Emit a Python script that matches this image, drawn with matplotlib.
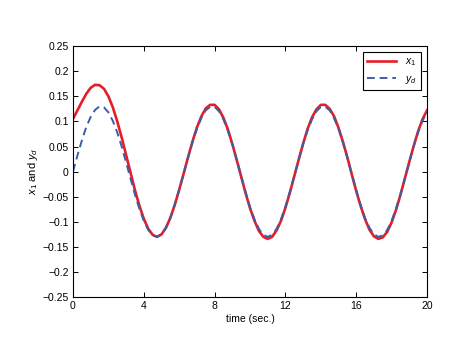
import numpy as np
import matplotlib
matplotlib.use("Agg")
import matplotlib.pyplot as plt

plt.rcParams['font.family'] = ['Liberation Sans', 'DejaVu Sans']
plt.rcParams['mathtext.fontset'] = 'custom'
plt.rcParams['mathtext.rm'] = 'Liberation Sans'
plt.rcParams['mathtext.it'] = 'Liberation Sans:italic'

# time samples (sec.), every 0.25 s
time = np.arange(0, 20.01, 0.25)

# state x1
x1 = [0.105, 0.122, 0.139, 0.155, 0.167, 0.173, 0.172, 0.165, 0.150, 0.128,
      0.100, 0.068, 0.033, -0.002, -0.037, -0.068, -0.094, -0.114, -0.126, -0.130,
      -0.125, -0.112, -0.092, -0.066, -0.036, -0.004, 0.029, 0.060, 0.088, 0.110,
      0.126, 0.133, 0.133, 0.124, 0.107, 0.084, 0.055, 0.023, -0.010, -0.043,
      -0.073, -0.098, -0.118, -0.130, -0.134, -0.130, -0.117, -0.098, -0.072, -0.042,
      -0.009, 0.024, 0.056, 0.085, 0.108, 0.124, 0.133, 0.133, 0.125, 0.110,
      0.087, 0.059, 0.028, -0.006, -0.039, -0.069, -0.095, -0.116, -0.129, -0.134,
      -0.131, -0.120, -0.101, -0.076, -0.046, -0.013, 0.020, 0.052, 0.081, 0.105,
      0.122]

# desired output yd
yd = [0.000, 0.032, 0.062, 0.089, 0.109, 0.123, 0.130, 0.128, 0.118, 0.101,
      0.078, 0.050, 0.018, -0.014, -0.046, -0.074, -0.098, -0.116, -0.127, -0.130,
      -0.125, -0.112, -0.092, -0.066, -0.036, -0.004, 0.028, 0.059, 0.085, 0.107,
      0.122, 0.129, 0.129, 0.120, 0.104, 0.081, 0.054, 0.023, -0.010, -0.041,
      -0.071, -0.095, -0.114, -0.126, -0.130, -0.126, -0.114, -0.095, -0.070, -0.040,
      -0.009, 0.024, 0.055, 0.082, 0.104, 0.120, 0.129, 0.129, 0.122, 0.106,
      0.085, 0.058, 0.027, -0.005, -0.037, -0.067, -0.093, -0.112, -0.125, -0.130,
      -0.127, -0.116, -0.098, -0.073, -0.045, -0.013, 0.019, 0.051, 0.079, 0.102,
      0.119]

xticks = [0, 4, 8, 12, 16, 20]
yticks = [0.25, 0.2, 0.15, 0.1, 0.05, 0, -0.05, -0.1, -0.15, -0.2, -0.25]
ytick_labels = ['0.25', '0.2', '0.15', '0.1', '0.05', '0',
                '\u22120.05', '\u22120.1', '\u22120.15', '\u22120.2', '\u22120.25']

fig = plt.figure(figsize=(4.74, 3.52), dpi=100)
ax = fig.add_axes([0.154, 0.156, 0.747, 0.713])

ax.plot(time, x1, color='#e41e26', lw=1.9, label='$x_1$')
ax.plot(time, yd, color='#3c5da8', lw=1.4, ls=(0, (4, 2.5)), label='$y_d$')

ax.set_xlim(0, 20)
ax.set_ylim(-0.25, 0.25)
ax.set_xticks(xticks)
ax.set_xticklabels([str(t) for t in xticks])
ax.set_yticks(yticks)
ax.set_yticklabels(ytick_labels)
ax.tick_params(direction='in', length=3.5, width=0.7, labelsize=7.5,
               top=True, right=True, pad=3)
for s in ax.spines.values():
    s.set_linewidth(0.8)

ax.set_xlabel('time (sec.)', fontsize=7.5, labelpad=2)
ax.set_ylabel('$x_1$ and $y_d$', fontsize=8, labelpad=2)

leg = ax.legend(loc='upper right', fontsize=7.5, fancybox=False,
                edgecolor='black', framealpha=1, handlelength=2.8,
                borderaxespad=0.6)
leg.get_frame().set_linewidth(0.8)

fig.savefig('out.png', dpi=100)
